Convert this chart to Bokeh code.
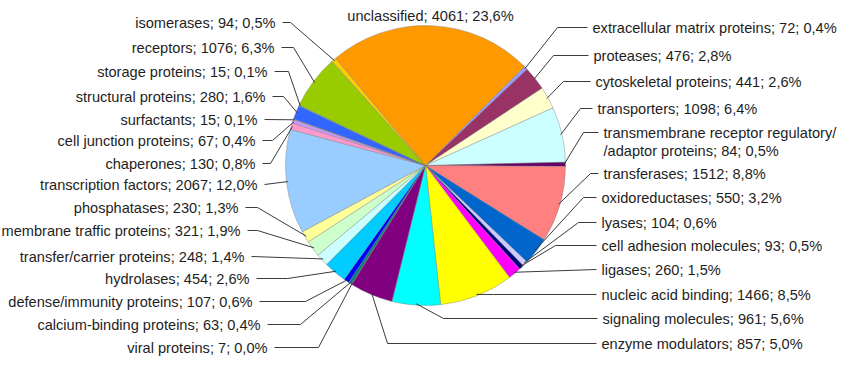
import numpy as np
from bokeh.plotting import figure
from bokeh.models import Range1d, ColumnDataSource
from bokeh.core.properties import value
from bokeh.embed import file_html
from bokeh.resources import INLINE

# ---- data (Excel series order, clockwise from the first slice) ----
categories = ["extracellular matrix proteins", "proteases", "cytoskeletal proteins",
              "transporters", "transmembrane receptor regulatory/\n/adaptor proteins",
              "transferases", "oxidoreductases", "lyases", "cell adhesion molecules",
              "ligases", "nucleic acid binding", "signaling molecules", "enzyme modulators",
              "viral proteins", "calcium-binding proteins", "defense/immunity proteins",
              "hydrolases", "transfer/carrier proteins", "membrane traffic proteins",
              "phosphatases", "transcription factors", "chaperones", "cell junction proteins",
              "surfactants", "structural proteins", "storage proteins", "receptors",
              "isomerases", "unclassified"]
counts = [72, 476, 441, 1098, 84, 1512, 550, 104, 93, 260, 1466, 961, 857, 7, 63, 107,
          454, 248, 321, 230, 2067, 130, 67, 15, 280, 15, 1076, 94, 4061]
colors = ["#9999FF", "#993366", "#FFFFCC", "#CCFFFF", "#660066", "#FF8080", "#0066CC",
          "#CCCCFF", "#000080", "#FF00FF", "#FFFF00", "#00FFFF", "#800080", "#800000",
          "#008080", "#0000FF", "#00CCFF", "#CCFFFF", "#CCFFCC", "#FFFF99", "#99CCFF",
          "#FF99CC", "#CC99FF", "#FFCC99", "#3366FF", "#33CCCC", "#99CC00", "#FFCC00",
          "#FF9900"]

# ---- layout (page pixel coordinates: x, y from top, align, elbow x) ----
label_layout = [
    (592, 27, "left", 557), (593, 55, "left", 553), (595, 81, "left", 563),
    (597, 108, "left", 580), (603, 132, "left", 583), (603, 173, "left", 590),
    (601, 197, "left", 583), (601, 222, "left", 578), (601, 245, "left", 555),
    (601, 269, "left", None), (601, 294, "left", 493), (602, 318, "left", 443),
    (601, 343, "left", 387),
    (267, 347, "right", 318), (260, 324, "right", 300), (252, 301, "right", 305),
    (249, 278, "right", 287), (244, 256, "right", None), (240, 230, "right", 257),
    (238, 207, "right", 257), (257, 184, "right", None), (255, 163, "right", 270),
    (255, 140, "right", 272), (257, 119, "right", None), (265, 96, "right", 283),
    (267, 71, "right", 288), (274, 47, "right", 293), (275, 22, "right", 290),
    (430, 15, "center", None),
]
PAGE_H = 369
CX, CY, R = 425, 165, 140
FIRST_ANGLE = 45  # degrees clockwise from 12 o'clock
FONT = "Liberation Sans"
FSIZE = "14.6px"
TXT = "#1e1e1e"

vals = np.array(counts, dtype=float)
total = vals.sum()
cw_start = FIRST_ANGLE + 360 * (np.cumsum(vals) - vals) / total
cw_end = cw_start + 360 * vals / total
cw_mid = (cw_start + cw_end) / 2

p = figure(width=842, height=361, output_backend="svg", toolbar_location=None,
           x_range=Range1d(0, 842), y_range=Range1d(PAGE_H - 361, PAGE_H),
           min_border=0, outline_line_color=None)
p.axis.visible = False
p.grid.visible = False
p.background_fill_color = "white"

src = ColumnDataSource(dict(
    start=np.radians(90 - cw_end), end=np.radians(90 - cw_start), color=colors))
p.wedge(x=CX, y=PAGE_H - CY, radius=R, radius_units="screen",
        start_angle="start", end_angle="end", direction="anticlock",
        fill_color="color", line_color="#7a7a7a", line_width=0.5, line_alpha=0.8,
        source=src)

# leader lines
xs, ys = [], []
for i, (lx, ly, al, ex) in enumerate(label_layout):
    if al == "center":
        continue
    px = CX + R * 0.99 * np.sin(np.radians(cw_mid[i]))
    py = CY - R * 0.99 * np.cos(np.radians(cw_mid[i]))
    sx = lx + 7 if al == "right" else lx - 5
    lxs, lys = [sx], [ly]
    if ex is not None:
        lxs.append(ex); lys.append(ly)
    lxs.append(px); lys.append(py)
    xs.append(lxs); ys.append([PAGE_H - v for v in lys])
p.multi_line(xs=xs, ys=ys, line_color="#3a3a3a", line_width=1)

# labels
groups = {"left": ([], [], []), "right": ([], [], []), "center": ([], [], [])}
for i, (lx, ly, al, ex) in enumerate(label_layout):
    pct = f"{100 * counts[i] / total:.1f}".replace(".", ",")
    txt = f"{categories[i]}; {counts[i]}; {pct}%"
    for k, line in enumerate(txt.split("\n")):
        g = groups[al]
        g[0].append(lx); g[1].append(PAGE_H - (ly + 18 * k)); g[2].append(line)
for al, (gx, gy, gt) in groups.items():
    p.text(x=gx, y=gy, text=gt, text_align=al, text_baseline="middle",
           text_font=value(FONT), text_font_size=FSIZE, text_color=TXT)

open("out.html", "w").write(file_html(p, INLINE))
